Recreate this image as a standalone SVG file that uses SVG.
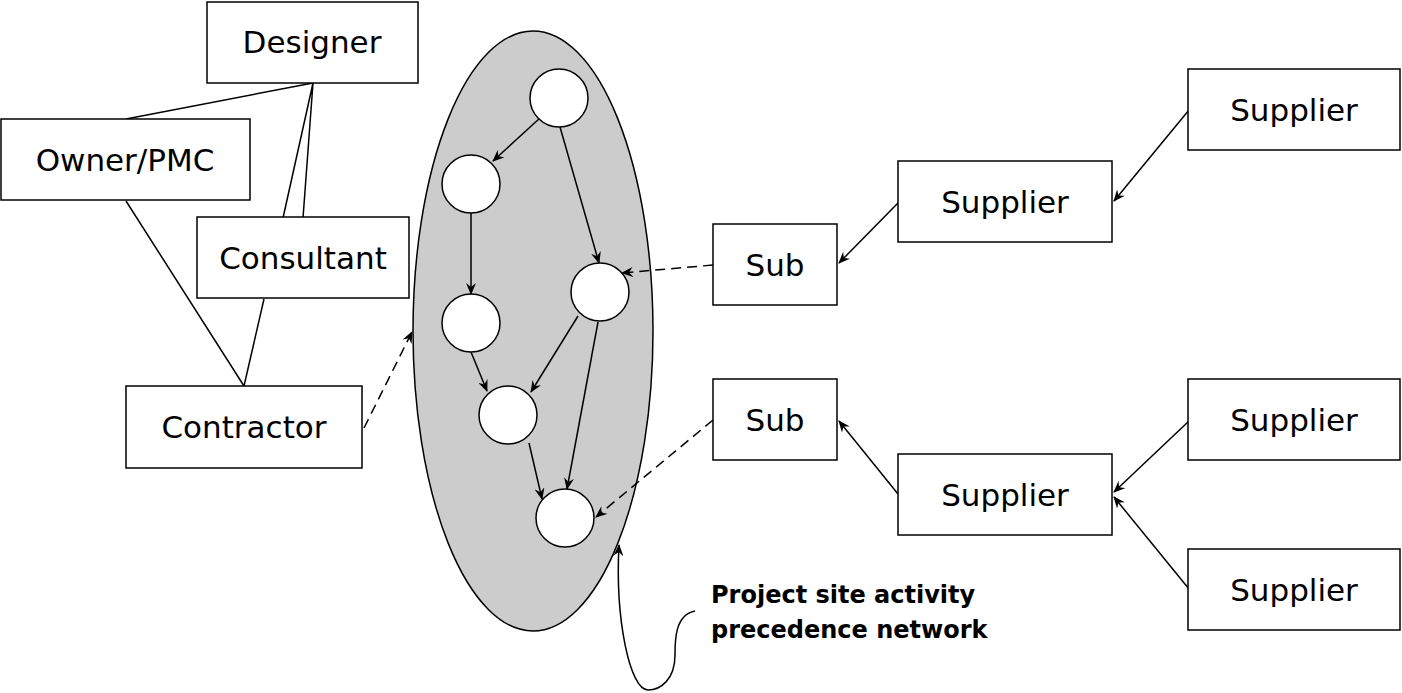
<svg xmlns="http://www.w3.org/2000/svg" width="1402" height="693" viewBox="0 0 1402 693">
<style>
.b{fill:#fff;stroke:#000;stroke-width:1.5}
.t{font-family:"DejaVu Sans",sans-serif;font-size:31px;text-anchor:middle;dominant-baseline:central}
.l{stroke:#000;stroke-width:1.5;fill:none}
.a{stroke:#000;stroke-width:1.5;fill:none;marker-end:url(#m)}
.d{stroke-dasharray:10,6}
.c{fill:#fff;stroke:#000;stroke-width:1.5}
</style>
<defs><marker id="m" viewBox="0 0 12 10" refX="11" refY="5" markerWidth="12" markerHeight="10" markerUnits="userSpaceOnUse" orient="auto"><path d="M0,0L12,5L0,10L4,5Z" fill="#000"/></marker></defs>
<g id="network"><ellipse cx="533" cy="331" rx="120" ry="300" fill="#ccc" stroke="#000" stroke-width="1.5"/></g>
<g id="connectors">
<path class="l" d="M313,83L126,119M313,83L283,218M313,83L303,218M126,201L244,386M264,299L244,386"/>
<path class="a d" d="M364,428L412,332"/>
<path class="a d" d="M713,265L622,273"/>
<path class="a d" d="M713,420L596,517"/>
<path class="a" d="M540,118L493,161"/>
<path class="a" d="M560,127L599,263"/>
<path class="a" d="M471,213L471,294"/>
<path class="a" d="M578,316L531,392"/>
<path class="a" d="M598,322L567,489"/>
<path class="a" d="M471,352L487,391"/>
<path class="a" d="M529,443L542,499"/>
<path class="a" d="M898,203L839,263"/>
<path class="a" d="M1189,110L1114,201"/>
<path class="a" d="M898,494L839,421"/>
<path class="a" d="M1189,421L1114,492"/>
<path class="a" d="M1189,589L1114,497"/>
<path class="a" d="M695,611C675,615 675,640 675,655C675,680 660,690 648,690C630,690 615,620 619,545"/>
</g>
<g id="designer"><rect class="b" x="207" y="2" width="211" height="81"/><text class="t" x="312" y="42">Designer</text></g>
<g id="owner"><rect class="b" x="1" y="119" width="249" height="81"/><text class="t" x="125" y="160">Owner/PMC</text></g>
<g id="consultant"><rect class="b" x="197" y="217" width="212" height="81"/><text class="t" x="303" y="258">Consultant</text></g>
<g id="contractor"><rect class="b" x="126" y="386" width="236" height="82"/><text class="t" x="244" y="427">Contractor</text></g>
<g id="sub1"><rect class="b" x="713" y="224" width="124" height="81"/><text class="t" x="775" y="265">Sub</text></g>
<g id="sub2"><rect class="b" x="713" y="379" width="124" height="81"/><text class="t" x="775" y="420">Sub</text></g>
<g id="sup1"><rect class="b" x="898" y="161" width="214" height="81"/><text class="t" x="1005" y="202">Supplier</text></g>
<g id="sup2"><rect class="b" x="1188" y="69" width="212" height="81"/><text class="t" x="1294" y="110">Supplier</text></g>
<g id="sup3"><rect class="b" x="898" y="454" width="214" height="81"/><text class="t" x="1005" y="495">Supplier</text></g>
<g id="sup4"><rect class="b" x="1188" y="379" width="212" height="81"/><text class="t" x="1294" y="420">Supplier</text></g>
<g id="sup5"><rect class="b" x="1188" y="549" width="212" height="81"/><text class="t" x="1294" y="590">Supplier</text></g>
<g id="nodes">
<circle class="c" cx="559" cy="98" r="29"/>
<circle class="c" cx="471" cy="184" r="29"/>
<circle class="c" cx="600" cy="292" r="29"/>
<circle class="c" cx="471" cy="323" r="29"/>
<circle class="c" cx="508" cy="415" r="29"/>
<circle class="c" cx="565" cy="518" r="29"/>
</g>
<g id="label"><text font-family="DejaVu Sans,sans-serif" font-size="24" font-weight="bold" x="711" y="603">Project site activity</text><text font-family="DejaVu Sans,sans-serif" font-size="24" font-weight="bold" x="711" y="638">precedence network</text></g>
</svg>
